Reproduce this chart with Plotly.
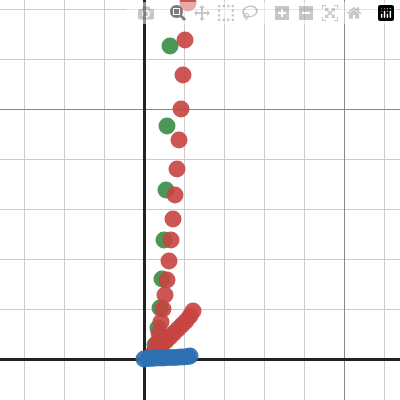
import plotly.graph_objects as go

# red curve (upper branch)
red_x = [1.1, 1.025, 0.975, 0.925, 0.875, 0.825, 0.775, 0.725, 0.675, 0.625, 0.575, 0.525,
         0.475, 0.425, 0.375, 0.325, 0.275, 0.2,
         0.15, 0.25, 0.35, 0.45, 0.55, 0.65, 0.75, 0.85, 0.95, 1.05, 1.15, 1.225]
red_y = [7.12, 6.38, 5.68, 5.0, 4.38, 3.8, 3.28, 2.8, 2.38, 1.96, 1.58, 1.28,
         1.0, 0.74, 0.52, 0.32, 0.18, 0.08,
         0.04, 0.12, 0.2, 0.28, 0.36, 0.44, 0.52, 0.6, 0.68, 0.76, 0.86, 0.96]
green_x = [0.65, 0.575, 0.55, 0.5, 0.45, 0.4, 0.35, 0.275]
green_y = [6.26, 4.66, 3.38, 2.38, 1.6, 1.02, 0.62, 0.28]
blue_x = [0.0, 0.1, 0.2, 0.3, 0.4, 0.5, 0.6, 0.7, 0.8, 0.9, 1.0, 1.1, 1.15]
blue_y = [0.0, 0.01, 0.01, 0.02, 0.02, 0.02, 0.03, 0.03, 0.03, 0.04, 0.04, 0.05, 0.06]

fig = go.Figure()
for xs, ys, c in [(green_x, green_y, '#388c46'), (red_x, red_y, '#c74440'), (blue_x, blue_y, '#2d70b3')]:
    fig.add_trace(go.Scatter(x=xs, y=ys, mode='markers',
                             marker=dict(size=17, color=c, opacity=0.9, line=dict(width=0))))

ax = dict(showticklabels=False, ticks='', dtick=5, tick0=0, gridcolor='#888888', gridwidth=1,
          zeroline=True, zerolinecolor='#222222', zerolinewidth=2.5, showline=False,
          minor=dict(dtick=1, gridcolor='#cccccc', gridwidth=1))
fig.update_layout(
    width=400, height=400, margin=dict(l=0, r=0, t=0, b=0, pad=0),
    plot_bgcolor='white', paper_bgcolor='white', showlegend=False,
    xaxis=dict(range=[-3.6, 6.4], **ax),
    yaxis=dict(range=[-0.82, 7.18], **ax),
)
fig.write_html("out.html", post_script="document.body.style.margin='0';")
